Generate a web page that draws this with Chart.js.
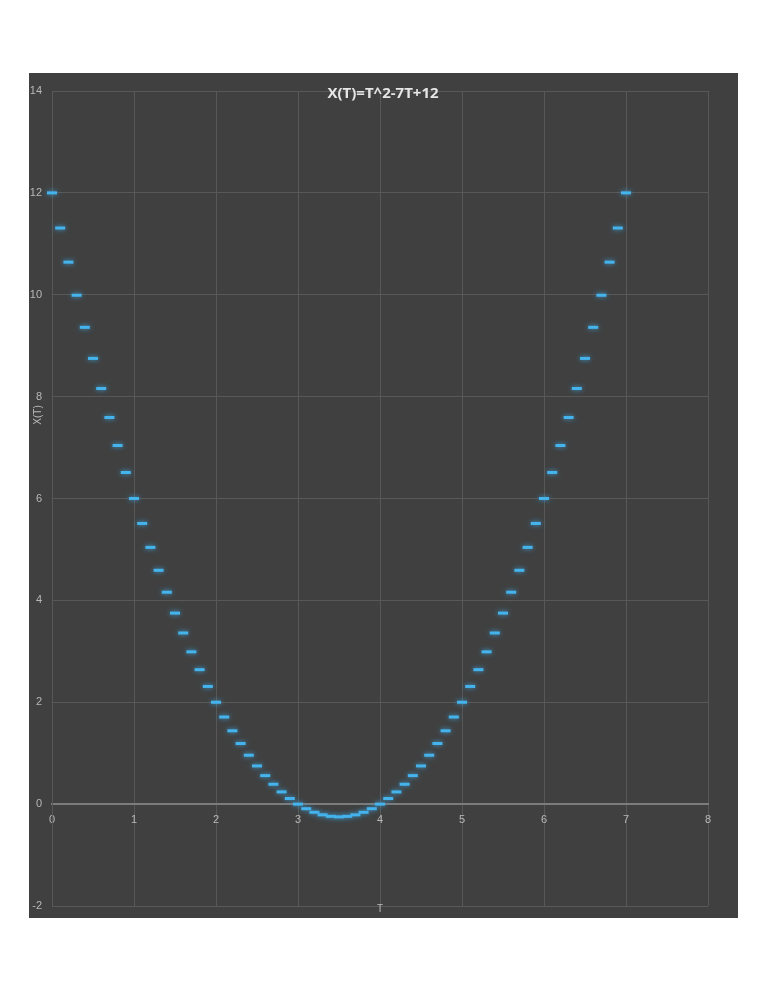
<!DOCTYPE html>
<html>
<head>
<meta charset="utf-8">
<script src="https://cdn.jsdelivr.net/npm/chart.js@4/dist/chart.umd.min.js"></script>
<style>
html,body{margin:0;padding:0;background:#ffffff;}
#wrap{position:relative;width:768px;height:994px;}
</style>
</head>
<body>
<div id="wrap"><canvas id="c" width="768" height="994"></canvas></div>
<script>
const chartTitle = "X(T)=T^2-7T+12";
const xTitle = "T";
const yTitle = "X(T)";
const tValues = [0,0.1,0.2,0.3,0.4,0.5,0.6,0.7,0.8,0.9,1.0,1.1,1.2,1.3,1.4,1.5,1.6,1.7,1.8,1.9,2.0,2.1,2.2,2.3,2.4,2.5,2.6,2.7,2.8,2.9,3.0,3.1,3.2,3.3,3.4,3.5,3.6,3.7,3.8,3.9,4.0,4.1,4.2,4.3,4.4,4.5,4.6,4.7,4.8,4.9,5.0,5.1,5.2,5.3,5.4,5.5,5.6,5.7,5.8,5.9,6.0,6.1,6.2,6.3,6.4,6.5,6.6,6.7,6.8,6.9,7.0];
const xValues = [12,11.31,10.64,9.99,9.36,8.75,8.16,7.59,7.04,6.51,6,5.51,5.04,4.59,4.16,3.75,3.36,2.99,2.64,2.31,2,1.71,1.44,1.19,0.96,0.75,0.56,0.39,0.24,0.11,0,-0.09,-0.16,-0.21,-0.24,-0.25,-0.24,-0.21,-0.16,-0.09,0,0.11,0.24,0.39,0.56,0.75,0.96,1.19,1.44,1.71,2,2.31,2.64,2.99,3.36,3.75,4.16,4.59,5.04,5.51,6,6.51,7.04,7.59,8.16,8.75,9.36,9.99,10.64,11.31,12];
const xTicks = [0,1,2,3,4,5,6,7,8];
const yTicks = [-2,0,2,4,6,8,10,12,14];

const points = tValues.map((t,i)=>({x:t,y:xValues[i]}));

const decor = {
  id:'decor',
  beforeDraw(chart){
    const ctx = chart.ctx;
    ctx.save();
    ctx.fillStyle = '#404040';
    ctx.fillRect(29,73,709,845);
    ctx.restore();
  },
  beforeDatasetsDraw(chart){
    const ctx = chart.ctx;
    ctx.save();
    ctx.shadowColor = 'rgba(60,170,230,0.9)';
    ctx.shadowBlur = 5;
  },
  afterDatasetsDraw(chart){
    chart.ctx.restore();
  },
  afterDraw(chart){
    const ctx = chart.ctx;
    ctx.save();
    ctx.fillStyle = '#e6e6e6';
    ctx.font = 'bold 15px "Open Sans", "Liberation Sans", sans-serif';
    ctx.textAlign = 'center';
    ctx.textBaseline = 'middle';
    ctx.fillText(chartTitle, 383, 94);
    ctx.fillStyle = '#b8b8b8';
    ctx.font = '10px "Liberation Sans", sans-serif';
    ctx.fillText(xTitle, 380, 909);
    ctx.translate(38, 415);
    ctx.rotate(-Math.PI/2);
    ctx.fillText(yTitle, 0, 0);
    ctx.restore();
  }
};

new Chart(document.getElementById('c'), {
  type:'scatter',
  data:{datasets:[{
    data:points,
    clip:false,
    pointStyle:'line',
    pointRadius:5,
    pointHoverRadius:5,
    borderWidth:3,
    pointBorderWidth:3,
    borderColor:'#45b3ec',
    backgroundColor:'#45b3ec',
    showLine:false
  }]},
  options:{
    responsive:false,
    animation:false,
    devicePixelRatio:1,
    layout:{padding:{left:29,right:60,top:91,bottom:88}},
    plugins:{legend:{display:false},tooltip:{enabled:false},title:{display:false}},
    scales:{
      x:{
        type:'linear',
        position:{y:0},
        min:0,max:8,
        afterBuildTicks(s){s.ticks = xTicks.map(v=>({value:v}));},
        ticks:{color:'#b8b8b8',font:{size:11,family:'"Liberation Sans", sans-serif'},padding:9,maxRotation:0},
        grid:{color:'#585858',lineWidth:1,drawTicks:false},
        border:{display:true,color:'#7c7c7c',width:2}
      },
      y:{
        type:'linear',
        min:-2,max:14,
        afterBuildTicks(s){s.ticks = yTicks.map(v=>({value:v}));},
        afterFit(s){s.width = 23;},
        ticks:{color:'#b8b8b8',font:{size:11,family:'"Liberation Sans", sans-serif'},padding:10},
        grid:{color:'#585858',lineWidth:1,drawTicks:false},
        border:{display:true,color:'#585858',width:1}
      }
    }
  },
  plugins:[decor]
});
</script>
</body>
</html>
